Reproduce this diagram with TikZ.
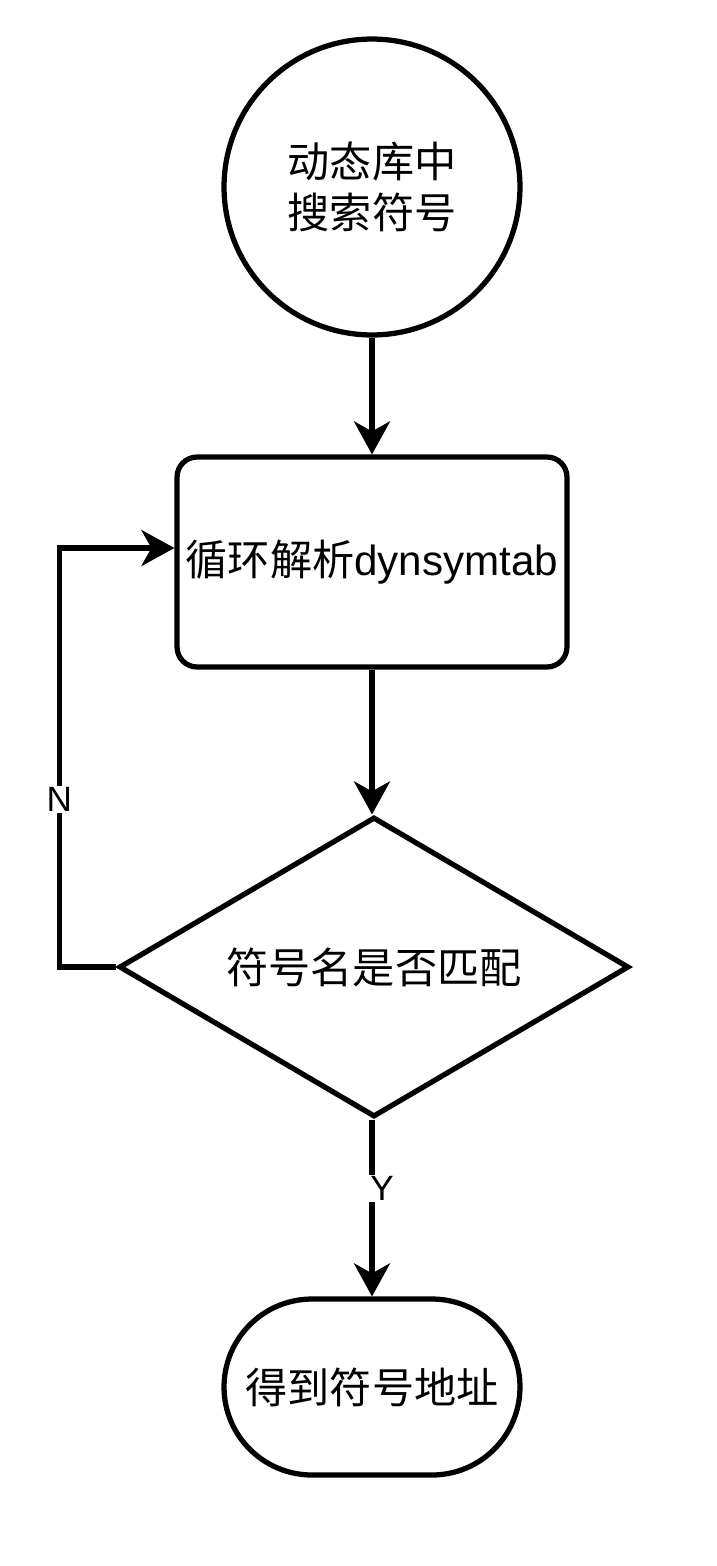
\documentclass[tikz,border=0pt]{standalone}
\usepackage{fontspec}
\setmainfont{Liberation Sans}
\newfontfamily\cjk{Noto Sans CJK SC}
\usetikzlibrary{arrows.meta,shapes.geometric,shapes.misc}
\definecolor{bg}{HTML}{FFFFFF}
\definecolor{ink}{HTML}{000000}
\tikzset{
  base/.style={draw=ink, line width=0.105cm, fill=bg, align=center, inner sep=0pt, font=\cjk\fontsize{24}{29.5}\selectfont},
  startc/.style={base, circle, minimum size=5.92cm},
  proc/.style={base, rectangle, rounded corners=0.4cm, minimum width=7.8cm, minimum height=4.2cm},
  dec/.style={base, diamond, aspect=1.7, minimum width=10.2cm, minimum height=6cm},
  term/.style={base, rounded rectangle, minimum width=5.92cm, minimum height=3.52cm},
  flow/.style={draw=ink, line width=0.105cm, -{Stealth[length=0.66cm,width=0.72cm,inset=0.2cm]}},
  lab/.style={text=ink, fill=bg, font=\fontsize{20}{24}\selectfont, inner sep=1pt},
}

\begin{document}
\begin{tikzpicture}[x=0.02cm, y=-0.02cm]
  \useasboundingbox[fill=bg] (0,0) rectangle (717,1566);

  % nodes
  \node[startc] (search) at (372,187) {动态库中\\搜索符号};
  \node[proc] (loop) at (372,562) {循环解析{\rmfamily dynsymtab}};
  \node[dec] (match) at (374,967) {符号名是否匹配};
  \node[term] (addr) at (372,1387) {得到符号地址};

  % connectors
  \draw[flow] (search) -- (loop);
  \draw[flow] (loop) -- (loop |- match.north);
  \draw[flow] (match.west) -- ++(-57,0) |- ([yshift=0.28cm]loop.west)
    node[lab, pos=0.2] {N};
  \draw[flow] (addr |- match.south) -- (addr.north)
    node[lab, pos=0.39, xshift=0.2cm] {Y};
\end{tikzpicture}
\end{document}
